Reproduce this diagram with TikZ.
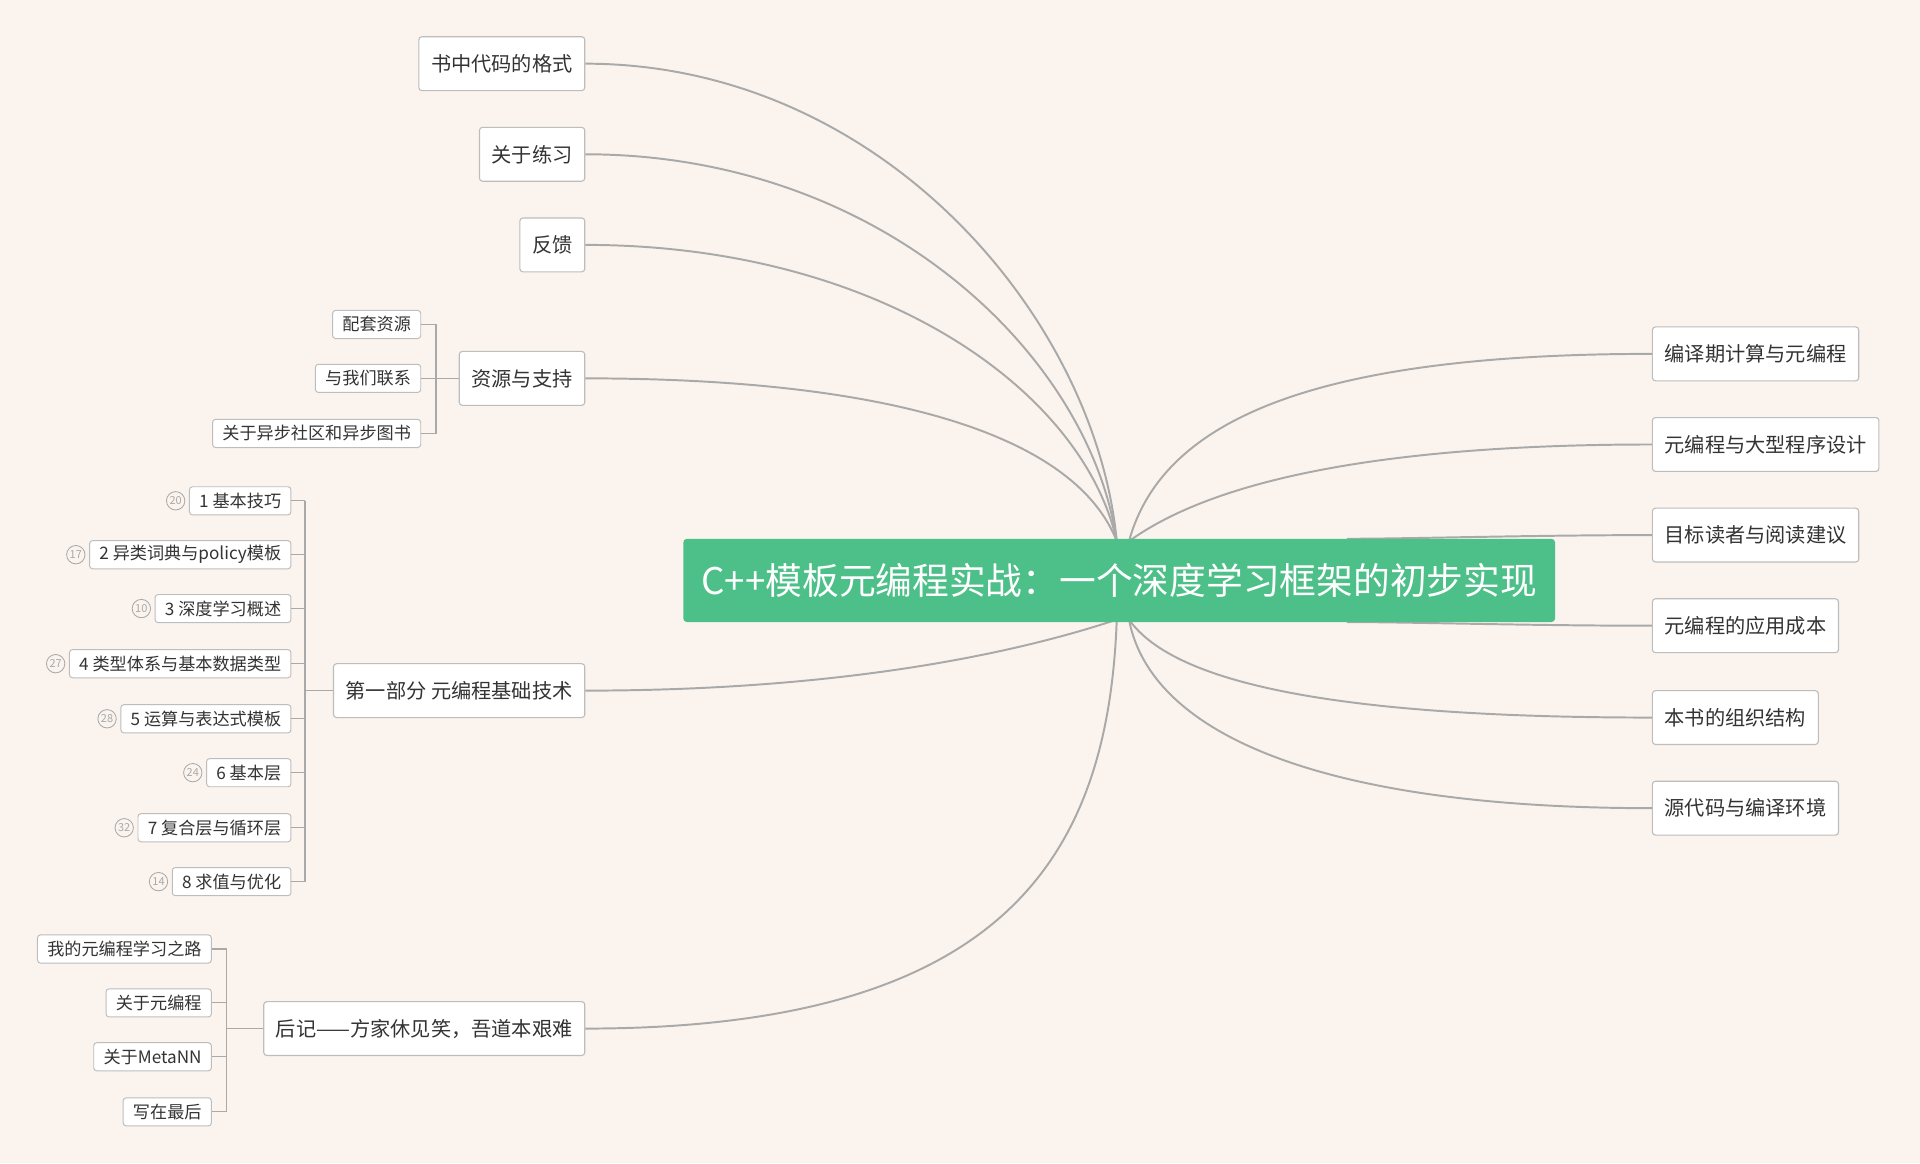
\documentclass[tikz,border=0pt]{standalone}
\usepackage{fontspec}
\setmainfont{Noto Sans CJK SC}
\definecolor{bg}{HTML}{FBF4EE}
\definecolor{hubc}{HTML}{4DBF88}
\definecolor{linec}{HTML}{A9A9A9}
\definecolor{bordc}{HTML}{BDBDBD}
\definecolor{txt}{HTML}{333333}
\tikzset{
  leaf/.style={draw=bordc,fill=white,rounded corners=2.5pt,text=txt,font=\fontsize{16.5}{18}\selectfont,minimum height=44pt,inner xsep=10pt,line width=0.9pt},
  sub/.style={draw=bordc,fill=white,rounded corners=2.5pt,text=txt,font=\fontsize{14}{16}\selectfont,minimum height=23pt,inner xsep=8pt,line width=0.8pt},
  num/.style={draw=linec,circle,inner sep=0pt,minimum size=15pt,text=linec,font=\fontsize{9}{10}\selectfont,line width=0.7pt},
  conn/.style={draw=linec,line width=1.6pt},
  brk/.style={draw=linec,line width=1pt}
}
\begin{document}
\begin{tikzpicture}[x=1pt,y=-1pt]
\fill[bg] (0,0) rectangle (1568,950);
\useasboundingbox (0,0) rectangle (1568,950);
\coordinate (hub) at (914,474);
\coordinate (ht) at (912,442);
\coordinate (hb) at (912,506);
\coordinate (rt) at (922,442);
\coordinate (rb) at (922,506);
% left leaves
\node[leaf,anchor=east] (a1) at (478,52) {书中代码的格式};
\node[leaf,anchor=east] (a2) at (478,126) {关于练习};
\node[leaf,anchor=east] (a3) at (478,200) {反馈};
\node[leaf,anchor=east] (a4) at (478,309) {资源与支持};
\node[leaf,anchor=east] (a5) at (478,564) {第一部分 元编程基础技术};
\node[leaf,anchor=east] (a6) at (478,840) {后记——方家休见笑，吾道本艰难};
% right leaves
\node[leaf,anchor=west] (b1) at (1349,289) {编译期计算与元编程};
\node[leaf,anchor=west] (b2) at (1349,363) {元编程与大型程序设计};
\node[leaf,anchor=west] (b3) at (1349,437) {目标读者与阅读建议};
\node[leaf,anchor=west] (b4) at (1349,511) {元编程的应用成本};
\node[leaf,anchor=west] (b5) at (1349,586) {本书的组织结构};
\node[leaf,anchor=west] (b6) at (1349,660) {源代码与编译环境};
% connectors
\path[conn] (a1.east) .. controls (720,52) and (895,260) .. (ht);
\path[conn] (a2.east) .. controls (720,126) and (890,290) .. (ht);
\path[conn] (a3.east) .. controls (720,200) and (885,320) .. (ht);
\path[conn] (a4.east) .. controls (740,309) and (880,360) .. (ht);
\path[conn] (a5.east) .. controls (700,564) and (840,530) .. (hb);
\path[conn] (a6.east) .. controls (820,840) and (905,700) .. (hb);
\path[conn] (b1.west) .. controls (1080,289) and (950,340) .. (rt);
\path[conn] (b2.west) .. controls (1100,363) and (980,400) .. (rt);
\path[conn] (b3.west) .. controls (1250,437) and (1150,440) .. (1100,440);
\path[conn] (b4.west) .. controls (1250,511) and (1150,508) .. (1100,508);
\path[conn] (b5.west) .. controls (1100,586) and (960,560) .. (rb);
\path[conn] (b6.west) .. controls (1080,660) and (940,600) .. (rb);
% hub
\node[fill=hubc,rounded corners=3pt,minimum width=712pt,minimum height=68pt,text=white,font=\fontsize{30}{32}\selectfont,inner sep=0pt] (c) at (914,474) {C++模板元编程实战：一个深度学习框架的初步实现};
% resources subs
\node[sub,anchor=east] (s1) at (344,265) {配套资源};
\node[sub,anchor=east] (s2) at (344,309) {与我们联系};
\node[sub,anchor=east] (s3) at (344,354) {关于异步社区和异步图书};
\coordinate (j1) at (356,309);
\path[brk] (s1.east) -| (j1) |- (s3.east);
\path[brk] (s2.east) -- (a4.west);
% part one subs
\coordinate (j2) at (249,564);
\foreach \t/\y/\n/\k in {1 基本技巧/409/20/p1, 2 异类词典与policy模板/453/17/p2, 3 深度学习概述/497/10/p3, 4 类型体系与基本数据类型/542/27/p4, 5 运算与表达式模板/587/28/p5, 6 基本层/631/24/p6, 7 复合层与循环层/676/32/p7, 8 求值与优化/720/14/p8}{
  \node[sub,anchor=east] (\k) at (238,\y) {\t};
  \node[num,anchor=east] (\k n) at ([xshift=-3pt]\k.west) {\n};
  \path[brk] (\k.east) -- (249,\y);
}
\path[brk] (249,409) -- (249,720);
\path[brk] (j2) -- (a5.west);
% afterword subs
\node[sub,anchor=east] (w1) at (173,775) {我的元编程学习之路};
\node[sub,anchor=east] (w2) at (173,819) {关于元编程};
\node[sub,anchor=east] (w3) at (173,863) {关于MetaNN};
\node[sub,anchor=east] (w4) at (173,908) {写在最后};
\coordinate (j3) at (185,840);
\path[brk] (w1.east) -| (185,775) |- (w4.east);
\path[brk] (w2.east) -- (185,819);
\path[brk] (w3.east) -- (185,863);
\path[brk] (j3) -- (a6.west);
\end{tikzpicture}
\end{document}
